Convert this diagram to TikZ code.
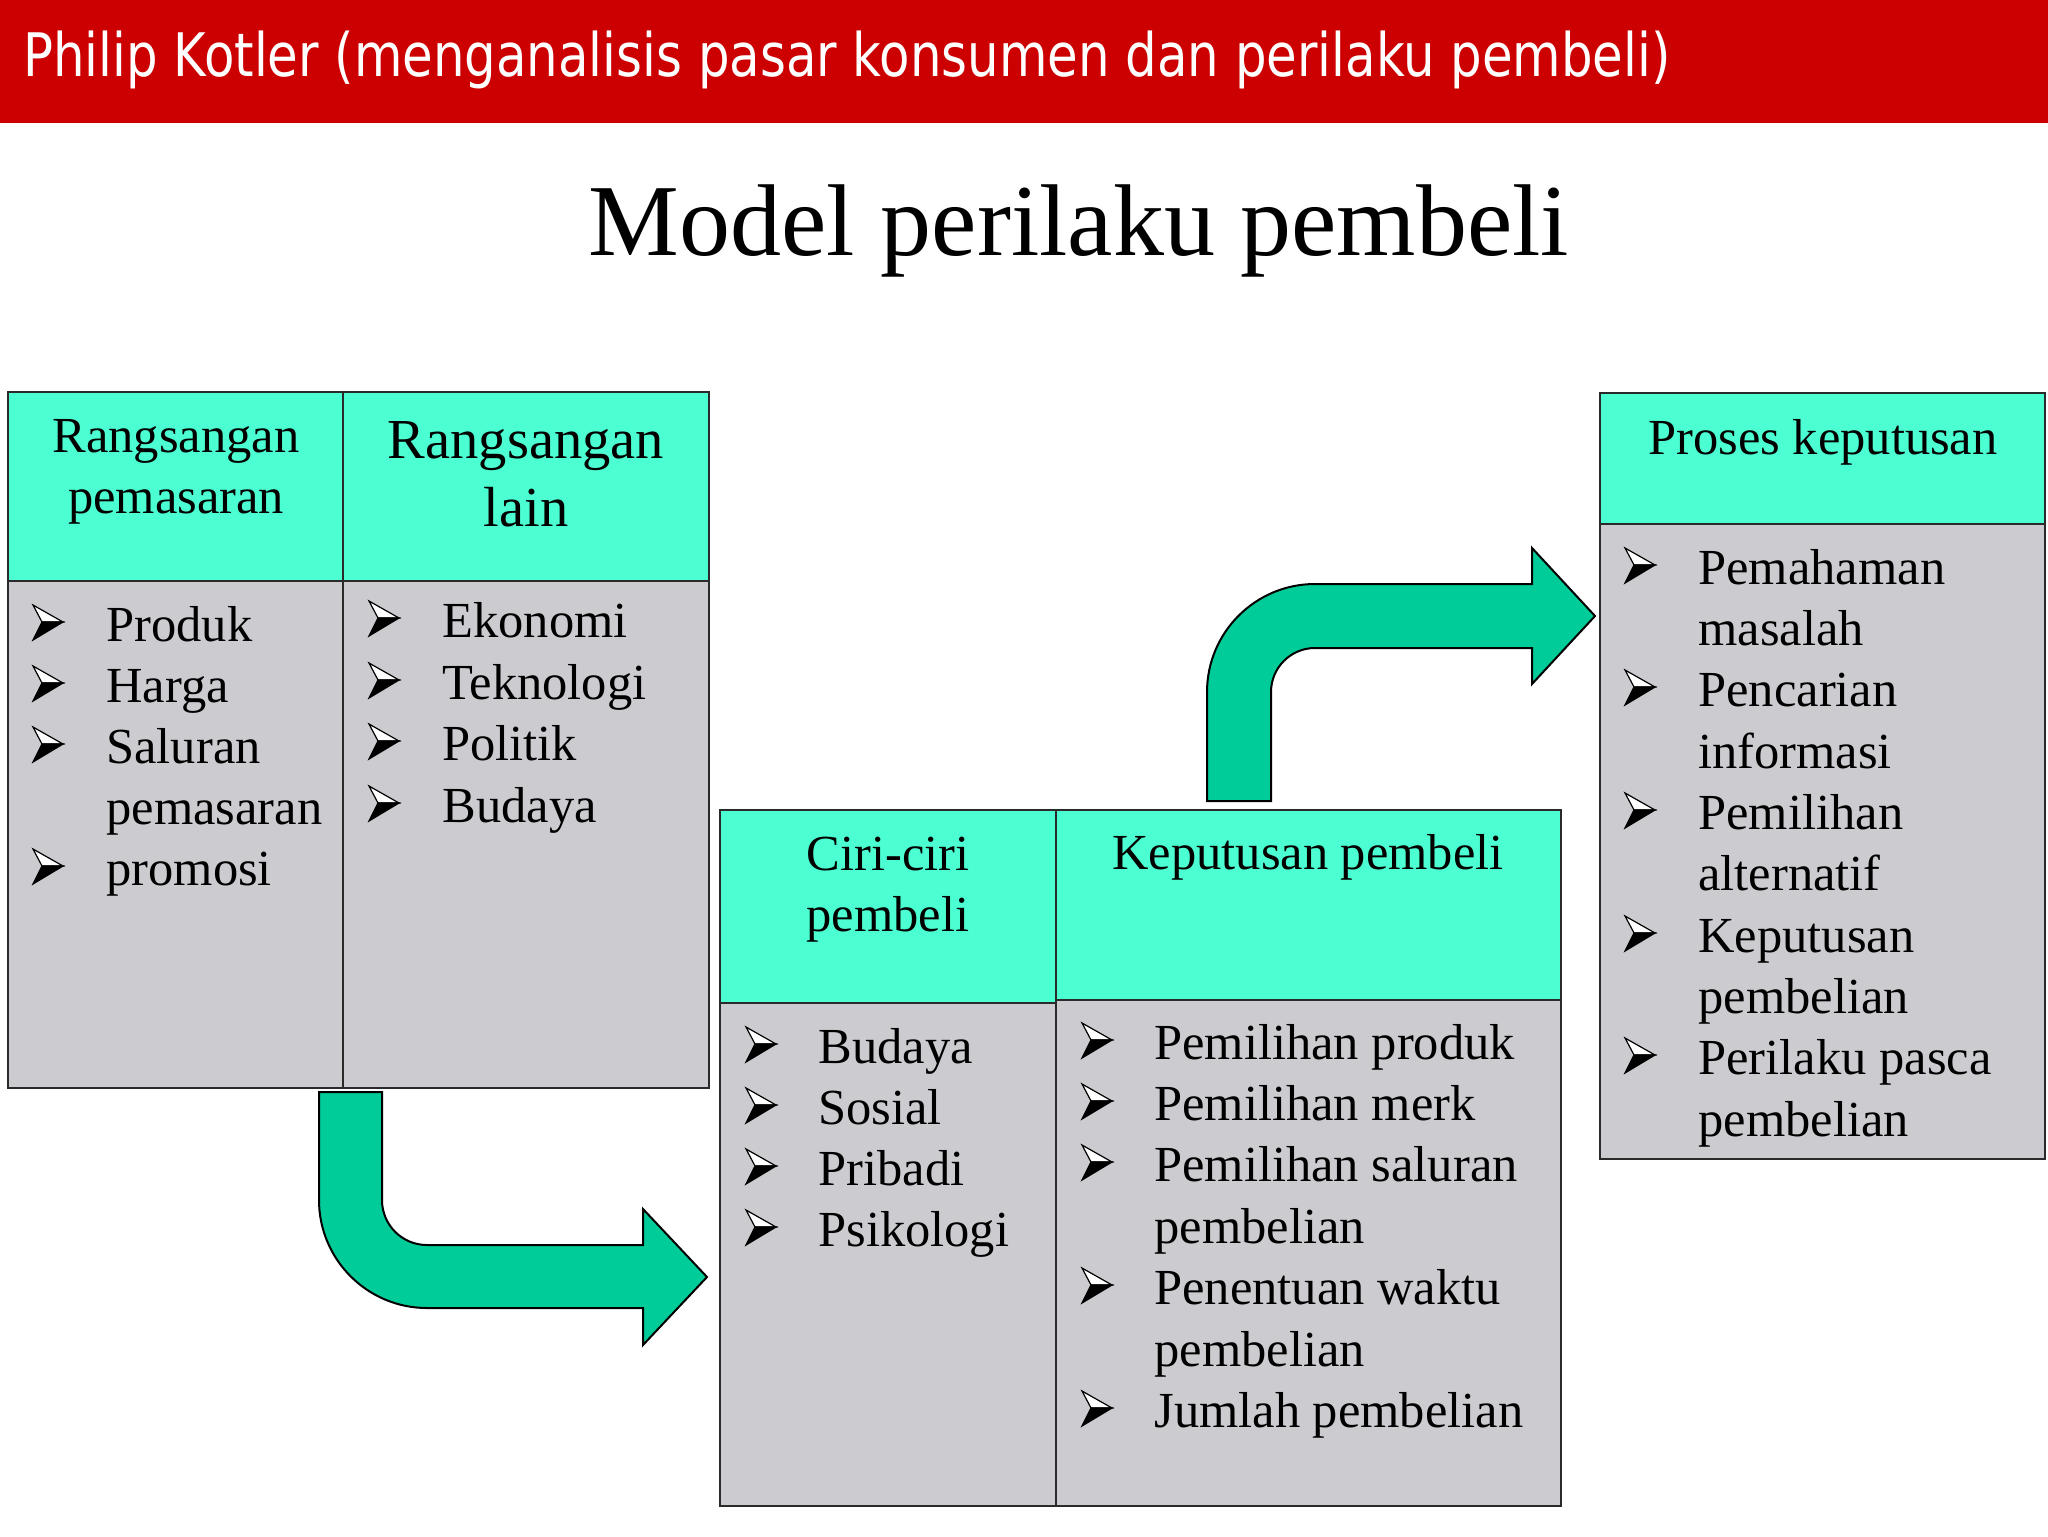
\documentclass[tikz,border=0pt]{standalone}
\usepackage{fontspec}
\usepackage{graphicx}
\setmainfont{Liberation Serif}
\newfontfamily\hdrfont{DejaVu Sans}
\usetikzlibrary{fit}
\definecolor{barred}{HTML}{CC0000}
\definecolor{aqua}{HTML}{4CFFD2}
\definecolor{cellgray}{HTML}{CCCBD0}
\definecolor{arrowgreen}{HTML}{00CC99}
\definecolor{edgecol}{HTML}{2A2A2A}
\begin{document}
\begin{tikzpicture}[x=0.5pt,y=-0.5pt,
  hcell/.style={draw=edgecol,line width=1.2pt,fill=aqua,inner sep=0pt,rectangle},
  bcell/.style={draw=edgecol,line width=1.2pt,fill=cellgray,inner sep=0pt,rectangle},
  hd/.style={font=\fontsize{25.25pt}{30pt}\selectfont,anchor=base,inner sep=0pt},
  hdbig/.style={font=\fontsize{28.25pt}{34pt}\selectfont,anchor=base,inner sep=0pt},
  li/.style={font=\fontsize{25.25pt}{30pt}\selectfont,anchor=base west,inner sep=0pt},
  blockarrow/.style={fill=arrowgreen,draw=black,line width=1pt,line join=miter},
  bul/.pic={
    \filldraw[fill=white,draw=black,line width=0.6pt,line join=miter] (0,-36) -- (30,-19) -- (9,-19) -- cycle;
    \filldraw[fill=black,draw=black,line width=0.6pt,line join=miter] (9,-19) -- (30,-19) -- (0,-1) -- cycle;
  }]
\useasboundingbox (0,0) rectangle (2048,1536);
\fill[white] (0,0) rectangle (2048,1536);

% header bar
\fill[barred] (0,0) rectangle (2048,123);
\node[anchor=base west,inner sep=0pt,text=white] (hdr) at (23,77)
  {\resizebox{823.5pt}{\height}{\hdrfont\fontsize{30pt}{36pt}\selectfont Philip Kotler (menganalisis pasar konsumen dan perilaku pembeli)}};

% title
\node[anchor=base,inner sep=0pt,font=\fontsize{51pt}{60pt}\selectfont] (title) at (1079,255) {Model perilaku pembeli};

% ---- box group 1
\node[hcell,fit={(8,392) (343,581)}] (Ahead) {};
\node[bcell,fit={(8,581) (343,1088)}] (Abody) {};
\node[hcell,fit={(343,392) (709,581)}] (Bhead) {};
\node[bcell,fit={(343,581) (709,1088)}] (Bbody) {};

% ---- box group 2
\node[hcell,fit={(720,810) (1056,1003)}] (Chead) {};
\node[bcell,fit={(720,1003) (1056,1506)}] (Cbody) {};
\node[hcell,fit={(1056,810) (1561,1000)}] (Dhead) {};
\node[bcell,fit={(1056,1000) (1561,1506)}] (Dbody) {};

% ---- box 3
\node[hcell,fit={(1600,393) (2045,524)}] (Ehead) {};
\node[bcell,fit={(1600,524) (2045,1159)}] (Ebody) {};

% headings
\node[hd] (a1) at (176,452) {Rangsangan};
\node[hd] (a2) at (176,513) {pemasaran};
\node[hdbig] (b1) at (526,458) {Rangsangan};
\node[hdbig] (b2) at (526,526) {lain};
\node[hd] (c1) at (888,870) {Ciri-ciri};
\node[hd] (c2) at (888,931) {pembeli};
\node[hd] (d1) at (1308,869) {Keputusan pembeli};
\node[hd] (e1) at (1823,454) {Proses keputusan};

% list A
\pic at (33,641) {bul}; \node[li] (al1) at (106,641) {Produk};
\pic at (33,702) {bul}; \node[li] (al2) at (106,702) {Harga};
\pic at (33,763) {bul}; \node[li] (al3) at (106,763) {Saluran};
\node[li] (al4) at (106,824) {pemasaran};
\pic at (33,885) {bul}; \node[li] (al5) at (106,885) {promosi};

% list B
\pic at (369,637) {bul}; \node[li] (bl1) at (442,637) {Ekonomi};
\pic at (369,699) {bul}; \node[li] (bl2) at (442,699) {Teknologi};
\pic at (369,760) {bul}; \node[li] (bl3) at (442,760) {Politik};
\pic at (369,822) {bul}; \node[li] (bl4) at (442,822) {Budaya};

% list C
\pic at (746,1063) {bul}; \node[li] (cl1) at (818,1063) {Budaya};
\pic at (746,1124) {bul}; \node[li] (cl2) at (818,1124) {Sosial};
\pic at (746,1185) {bul}; \node[li] (cl3) at (818,1185) {Pribadi};
\pic at (746,1246) {bul}; \node[li] (cl4) at (818,1246) {Psikologi};

% list D
\pic at (1082,1059) {bul}; \node[li] (dl1) at (1154,1059) {Pemilihan produk};
\pic at (1082,1120) {bul}; \node[li] (dl2) at (1154,1120) {Pemilihan merk};
\pic at (1082,1181) {bul}; \node[li] (dl3) at (1154,1181) {Pemilihan saluran};
\node[li] (dl4) at (1154,1243) {pembelian};
\pic at (1082,1304) {bul}; \node[li] (dl5) at (1154,1304) {Penentuan waktu};
\node[li] (dl6) at (1154,1366) {pembelian};
\pic at (1082,1427) {bul}; \node[li] (dl7) at (1154,1427) {Jumlah pembelian};

% list E
\pic at (1625,584) {bul}; \node[li] (el1) at (1698,584) {Pemahaman};
\node[li] (el2) at (1698,645) {masalah};
\pic at (1625,706) {bul}; \node[li] (el3) at (1698,706) {Pencarian};
\node[li] (el4) at (1698,768) {informasi};
\pic at (1625,829) {bul}; \node[li] (el5) at (1698,829) {Pemilihan};
\node[li] (el6) at (1698,890) {alternatif};
\pic at (1625,952) {bul}; \node[li] (el7) at (1698,952) {Keputusan};
\node[li] (el8) at (1698,1013) {pembelian};
\pic at (1625,1074) {bul}; \node[li] (el9) at (1698,1074) {Perilaku pasca};
\node[li] (el10) at (1698,1136) {pembelian};

% block arrow 1 (group 1 -> group 2)
\draw[blockarrow] (319,1092) -- (382,1092) -- (382,1200)
  .. controls (382,1224.9) and (402.1,1245) .. (427,1245)
  -- (643,1245) -- (643,1209) -- (707,1277) -- (643,1345) -- (643,1308) -- (427,1308)
  .. controls (367.4,1308) and (319,1259.6) .. (319,1200) -- cycle;

% block arrow 2 (group 2 -> box 3)
\draw[blockarrow] (1207,801) -- (1207,692)
  .. controls (1207,632.4) and (1255.4,584) .. (1315,584)
  -- (1532,584) -- (1532,548) -- (1595,616) -- (1532,684) -- (1532,648) -- (1315,648)
  .. controls (1290.7,648) and (1271,667.7) .. (1271,692) -- (1271,801) -- cycle;
\end{tikzpicture}
\end{document}
